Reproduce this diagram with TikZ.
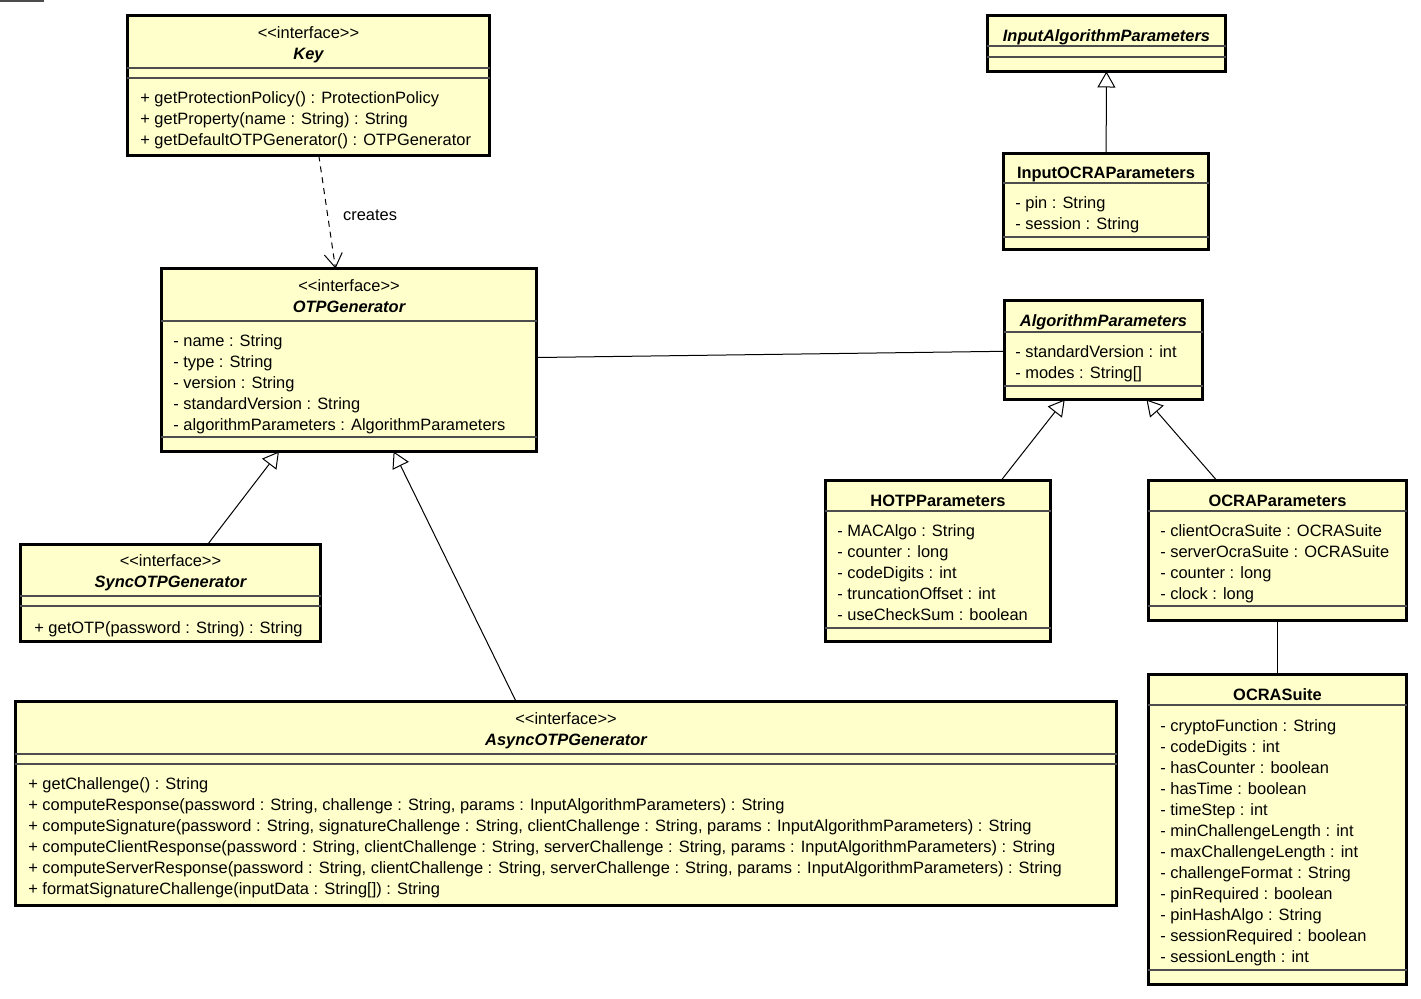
\documentclass[tikz,border=0pt]{standalone}
\usepackage{fontspec}
\setmainfont{Liberation Sans}[Ligatures=TeXOff]
\usepackage{tikz}
\usetikzlibrary{arrows.meta,positioning,fit}
\definecolor{ClassFill}{HTML}{FFFFCC}
\definecolor{RuleGray}{HTML}{4D4D4D}
\newcommand{\umlfont}{\fontsize{9.35}{11.95}\selectfont}
\newcommand{\stereo}{<<interface>>}
\tikzset{
  % Class box
  CB/.style={rectangle,draw=black,line width=0.06cm,fill=ClassFill,
             inner sep=0pt,outer sep=0pt},
  % Compartment rule
  cmp/.style={draw=RuleGray,line width=0.025cm},
  % Compartment text
  TX/.style={inner sep=0pt,font=\umlfont,align=left,anchor=north west,
             execute at begin node=\strut},
  HD/.style={TX,align=center,anchor=north},
  % Connectors
  gen/.style={-{Triangle[open,fill=white,length=0.32cm,width=0.36cm]},line width=0.02cm},
  dep/.style={-{Straight Barb[length=0.28cm,width=0.36cm]},line width=0.02cm,
              dash pattern=on 0.12cm off 0.1cm},
  asc/.style={line width=0.02cm},
  LB/.style={inner sep=0pt,font=\umlfont}
}
\begin{document}
\begin{tikzpicture}[x=0.02cm,y=-0.02cm]
  \useasboundingbox (0,0) rectangle (1421,999);
  \draw[black!70,line width=0.04cm] (0,1) -- (44,1);

  \node[CB,fit={(127.5,15.5) (489.5,155.5)}] (key) {};
  \node[HD] (key-h) at (308.5,26.3) {\stereo\\{\bfseries\itshape Key}};
  \draw[cmp] (127,68) -- (490,68);
  \draw[cmp] (127,78) -- (490,78);
  \node[TX] (key-m) at (140,91.3)
    {+ getProtectionPolicy() : ProtectionPolicy\\
     + getProperty(name : String) : String\\
     + getDefaultOTPGenerator() : OTPGenerator};

  \node[CB,fit={(161.5,268.5) (536.5,451.5)}] (otp) {};
  \node[HD] (otp-h) at (349,279.3) {\stereo\\{\bfseries\itshape OTPGenerator}};
  \draw[cmp] (161,321) -- (537,321);
  \draw[cmp] (161,437) -- (537,437);
  \node[TX] (otp-a) at (173,333.8)
    {- name : String\\
     - type : String\\
     - version : String\\
     - standardVersion : String\\
     - algorithmParameters : AlgorithmParameters};

  \node[CB,fit={(20.5,544.5) (320.5,641.5)}] (sync) {};
  \node[HD] (sync-h) at (170.5,554.3) {\stereo\\{\bfseries\itshape SyncOTPGenerator}};
  \draw[cmp] (20,596) -- (321,596);
  \draw[cmp] (20,606) -- (321,606);
  \node[TX] (sync-m) at (34,618.8) {+ getOTP(password : String) : String};

  \node[CB,fit={(15.5,701.5) (1116.5,905.5)}] (async) {};
  \node[HD] (async-h) at (566,712.3) {\stereo\\{\bfseries\itshape AsyncOTPGenerator}};
  \draw[cmp] (15,754) -- (1117,754);
  \draw[cmp] (15,764) -- (1117,764);
  \node[TX] (async-m) at (28,776.8)
    {+ getChallenge() : String\\
     + computeResponse(password : String, challenge : String, params : InputAlgorithmParameters) : String\\
     + computeSignature(password : String, signatureChallenge : String, clientChallenge : String, params : InputAlgorithmParameters) : String\\
     + computeClientResponse(password : String, clientChallenge : String, serverChallenge : String, params : InputAlgorithmParameters) : String\\
     + computeServerResponse(password : String, clientChallenge : String, serverChallenge : String, params : InputAlgorithmParameters) : String\\
     + formatSignatureChallenge(inputData : String[]) : String};

  \node[CB,fit={(987.5,15.5) (1225.5,71.5)}] (inalg) {};
  \node[HD] (inalg-h) at (1106.5,26.8) {\bfseries\itshape InputAlgorithmParameters};
  \draw[cmp] (987,46) -- (1226,46);
  \draw[cmp] (987,57) -- (1226,57);

  \node[CB,fit={(1003.5,153.5) (1208.5,249.5)}] (inocra) {};
  \node[HD] (inocra-h) at (1106,163.8) {\bfseries InputOCRAParameters};
  \draw[cmp] (1003,183) -- (1209,183);
  \node[TX] (inocra-a) at (1015,195.8)
    {- pin : String\\
     - session : String};
  \draw[cmp] (1003,237) -- (1209,237);

  \node[CB,fit={(1004.5,300.5) (1202.5,399.5)}] (alg) {};
  \node[HD] (alg-h) at (1103.5,311.8) {\bfseries\itshape AlgorithmParameters};
  \draw[cmp] (1004,332) -- (1203,332);
  \node[TX] (alg-a) at (1015,344.8)
    {- standardVersion : int\\
     - modes : String[]};
  \draw[cmp] (1004,386) -- (1203,386);

  \node[CB,fit={(825.5,480.5) (1050.5,641.5)}] (hotp) {};
  \node[HD] (hotp-h) at (938,491.8) {\bfseries HOTPParameters};
  \draw[cmp] (825,511) -- (1051,511);
  \node[TX] (hotp-a) at (837,523.8)
    {- MACAlgo : String\\
     - counter : long\\
     - codeDigits : int\\
     - truncationOffset : int\\
     - useCheckSum : boolean};
  \draw[cmp] (825,628) -- (1051,628);

  \node[CB,fit={(1148.5,480.5) (1406.5,620.5)}] (ocrap) {};
  \node[HD] (ocrap-h) at (1277.5,491.8) {\bfseries OCRAParameters};
  \draw[cmp] (1148,511) -- (1407,511);
  \node[TX] (ocrap-a) at (1160,523.8)
    {- clientOcraSuite : OCRASuite\\
     - serverOcraSuite : OCRASuite\\
     - counter : long\\
     - clock : long};
  \draw[cmp] (1148,606) -- (1407,606);

  \node[CB,fit={(1148.5,674.5) (1406.5,984.5)}] (suite) {};
  \node[HD] (suite-h) at (1277.5,685.8) {\bfseries OCRASuite};
  \draw[cmp] (1148,705) -- (1407,705);
  \node[TX] (suite-a) at (1160,718.8)
    {- cryptoFunction : String\\
     - codeDigits : int\\
     - hasCounter : boolean\\
     - hasTime : boolean\\
     - timeStep : int\\
     - minChallengeLength : int\\
     - maxChallengeLength : int\\
     - challengeFormat : String\\
     - pinRequired : boolean\\
     - pinHashAlgo : String\\
     - sessionRequired : boolean\\
     - sessionLength : int};
  \draw[cmp] (1148,970) -- (1407,970);

  \draw[dep] (key) -- (otp) node[LB,midway,right=0.31cm,yshift=-0.07cm] (crt) {creates};
  \draw[asc] (otp) -- (alg);
  \draw[gen] (sync) -- (otp);
  \draw[gen] (async) -- (otp);
  \draw[gen] (inocra) -- (inalg);
  \draw[gen] (hotp) -- (alg);
  \draw[gen] (ocrap) -- (alg);
  \draw[asc] (ocrap) -- (suite);
\end{tikzpicture}
\end{document}
